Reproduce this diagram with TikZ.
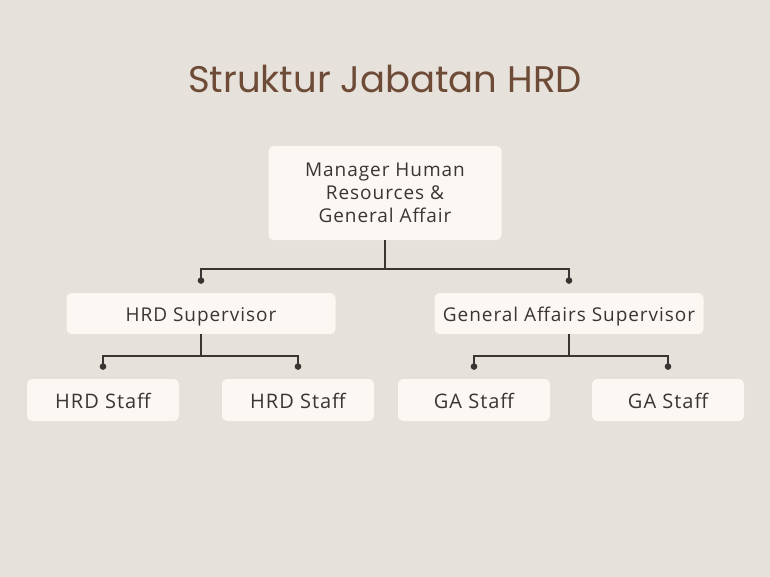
\documentclass[tikz,border=0pt]{standalone}
\usepackage{fontspec}
\setmainfont{Open Sans}[LetterSpace=5]
\newfontfamily\titlefont{Poppins}
\usetikzlibrary{arrows.meta}
\definecolor{paper}{HTML}{E6E1DA}
\definecolor{boxfill}{HTML}{FBF7F2}
\definecolor{titlebrown}{HTML}{6E4B37}
\definecolor{ink}{HTML}{3A3532}
\tikzset{
  post/.style={fill=boxfill, rounded corners=5pt, inner sep=0pt, align=center,
    text=ink, font=\fontsize{19}{23}\selectfont},
  sup/.style={post, minimum width=269pt, minimum height=41pt, text height=19pt, text depth=3pt},
  staff/.style={post, minimum width=152pt, minimum height=42pt, text height=19pt, text depth=3pt,
    font=\fontsize{20}{23}\selectfont},
  link/.style={ink, line width=1.6pt, -{Circle[length=6.5pt]}, shorten >=9pt}
}
\begin{document}
\begin{tikzpicture}[x=1pt,y=-1pt]

  \fill[paper] (0,0) rectangle (770,577);
  \useasboundingbox (0,0) rectangle (770,577);

  \node[text=titlebrown, font=\titlefont\fontsize{37}{37}\selectfont] (title) at (385,79) {Struktur Jabatan HRD};

  \node[post, minimum width=233pt, minimum height=94pt] (mgr) at (385,193)
       {Manager Human\\Resources \&\\General Affair};

  \node[sup] (hrd) at (201,313.5) {HRD Supervisor};
  \node[sup] (ga)  at (569,313.5) {General Affairs Supervisor};

  \node[staff] (hrd1) at (103,400)   {HRD Staff};
  \node[staff] (hrd2) at (298,400) {HRD Staff};
  \node[staff] (ga1)  at (474,400)   {GA Staff};
  \node[staff] (ga2)  at (668,400)   {GA Staff};

  % manager to supervisors
  \draw[link] (mgr.south) -- ++(0,29) -| (hrd.north);
  \draw[link] (mgr.south) -- ++(0,29) -| (ga.north);

  % supervisors to staff
  \draw[link] (hrd.south) -- ++(0,22) -| (hrd1.north);
  \draw[link] (hrd.south) -- ++(0,22) -| (hrd2.north);
  \draw[link] (ga.south) -- ++(0,22) -| (ga1.north);
  \draw[link] (ga.south) -- ++(0,22) -| (ga2.north);

\end{tikzpicture}
\end{document}
